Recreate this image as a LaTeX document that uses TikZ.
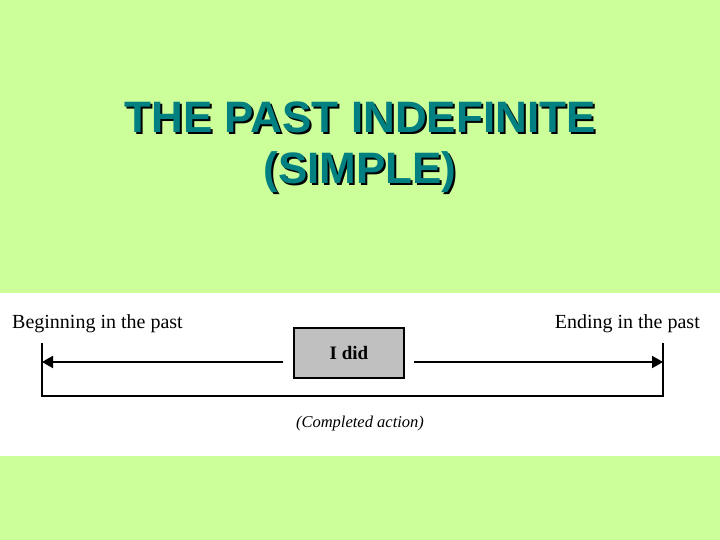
\documentclass[tikz,border=0pt]{standalone}
\usepackage{fontspec}
\setmainfont{Liberation Serif}
\newfontfamily\titlefont{Liberation Sans}
\usetikzlibrary{arrows.meta}
\definecolor{slidegreen}{RGB}{204,255,153}
\definecolor{titleteal}{RGB}{0,128,128}
\definecolor{boxgray}{RGB}{192,192,192}
\newcommand{\dropshadow}[1]{\leavevmode\rlap{\hspace{2pt}\raisebox{-2pt}{\textcolor{black}{#1}}}\textcolor{titleteal}{#1}}

\begin{document}
\begin{tikzpicture}[x=1pt,y=-1pt]
				\tikzstyle{every node}+=[inner sep=0pt]
				\tikzstyle{title}=[font=\titlefont\bfseries\fontsize{44}{50}\selectfont, anchor=base]
				\tikzstyle{label}=[font=\fontsize{20}{24}\selectfont, anchor=base]
				\tikzstyle{timeline}=[black, line width=2pt, -{Triangle[length=11pt,width=12pt]}]
				\useasboundingbox (0,0) rectangle (720,540);
				\fill [slidegreen] (0,0) rectangle (720,540);
				\fill [white] (0,293) rectangle (720,456);
				\node [title] (t1) at (360,133) {\dropshadow{THE PAST INDEFINITE}};
				\node [title] (t2) at (360,184) {\dropshadow{(SIMPLE)}};
				\node [label, anchor=base west] (begin) at (12,328) {Beginning in the past};
				\node [label, anchor=base east] (end) at (700,328) {Ending in the past};
				\node [draw, line width=1.5pt, fill=boxgray, minimum width=110, minimum height=50,
					font=\bfseries\fontsize{19}{22}\selectfont] (did) at (349,353) {I did};
				\node [font=\itshape\fontsize{16.5}{20}\selectfont, anchor=base] (done) at (360,427) {(Completed action)};
				\coordinate (ltop) at (42,343);
				\coordinate (lbot) at (42,396);
				\coordinate (rtop) at (663,343);
				\coordinate (rbot) at (663,396);
				\coordinate (lfrom) at (283,362);
				\coordinate (lto) at (42,362);
				\coordinate (rfrom) at (414,362);
				\coordinate (rto) at (663,362);
				\draw [black, line width=2pt] (ltop) -- (lbot) -- (rbot) -- (rtop);
				\draw [timeline] (lfrom) -- (lto);
				\draw [timeline] (rfrom) -- (rto);
\end{tikzpicture}
\end{document}
